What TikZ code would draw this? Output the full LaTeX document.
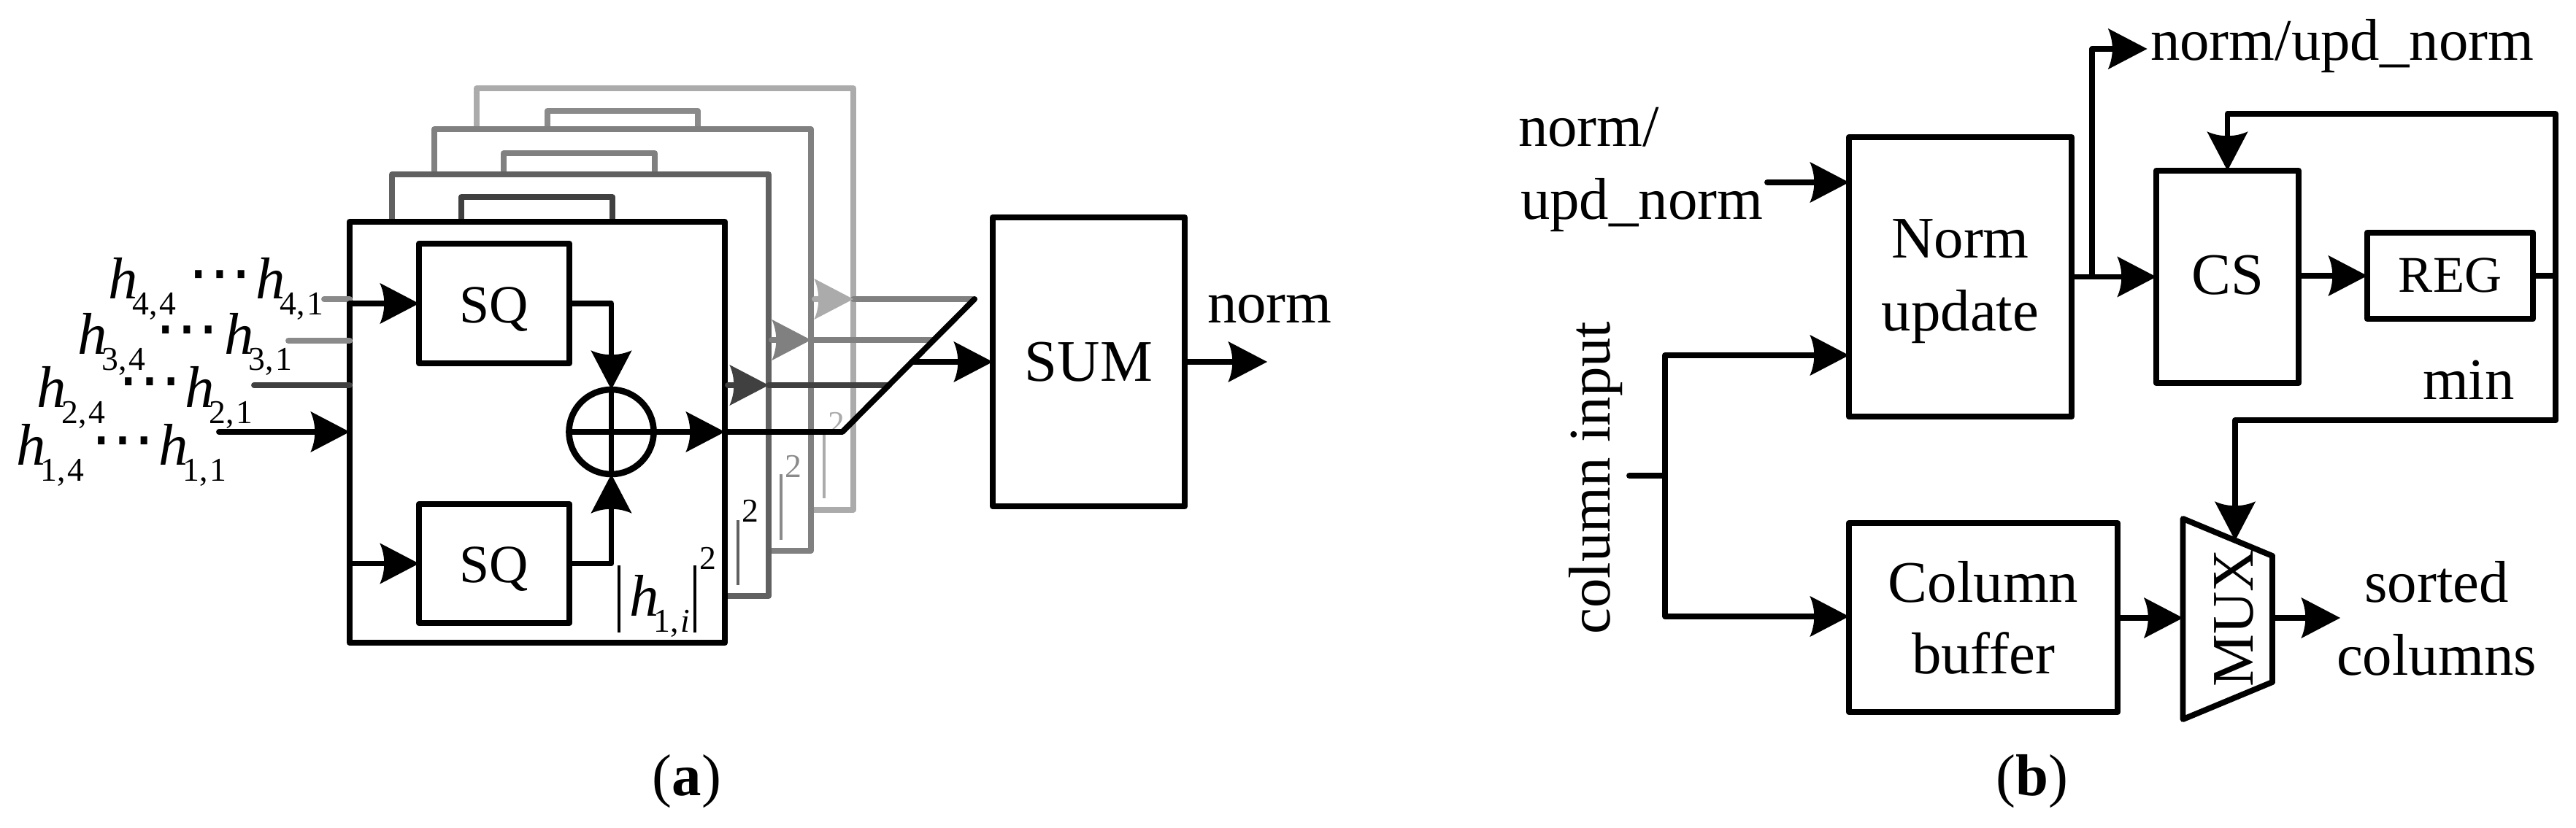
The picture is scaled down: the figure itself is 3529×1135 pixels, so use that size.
\documentclass[tikz,border=0pt]{standalone}
\usepackage{fontspec}
\setmainfont{Liberation Serif}
\newfontfamily\dvfont{DejaVu Sans}
\newlength\pxu
\setlength\pxu{0.02cm}
\newcommand\fM{\fontsize{46pt}{50pt}\selectfont}
\newcommand\fR{\fontsize{40.2pt}{50pt}\selectfont}
\newcommand\fS{\fontsize{26pt}{30pt}\selectfont}
\newcommand\lbl[2]{\makebox[0pt]{\raisebox{#1\pxu}[0pt][0pt]{#2}}}
\newcommand\hlab[2]{\textit{h}\kern-7\pxu\raisebox{-22\pxu}{\fS #1,\kern3\pxu #2}}
\definecolor{gA}{gray}{0.25}
\definecolor{gB}{gray}{0.38}
\definecolor{gC}{gray}{0.50}
\definecolor{gD}{gray}{0.54}
\definecolor{gE}{gray}{0.67}
\pgfdeclarearrow{
  name=Vis,
  setup code={\pgfarrowssettipend{0pt}\pgfarrowssetlineend{-22pt}\pgfarrowssetbackend{-30.6pt}\pgfarrowssetvisualbackend{-26pt}},
  drawing code={
    \pgfpathmoveto{\pgfpoint{0pt}{0pt}}
    \pgfpathlineto{\pgfpoint{-30.6pt}{16pt}}
    \pgfpathcurveto{\pgfpoint{-26pt}{6pt}}{\pgfpoint{-26pt}{-6pt}}{\pgfpoint{-30.6pt}{-16pt}}
    \pgfpathclose
    \pgfusepathqfill
  }
}
\tikzset{
  bx/.style={draw,line width=4.9pt,line join=round,inner sep=0pt,outer sep=0pt,fill=white,font=\fM},
  gbx/.style={bx,line width=4.3pt},
  conn/.style={line width=4.5pt,line cap=round,line join=round},
  arr/.style={conn,-{Vis}},
  txt/.style={inner sep=0pt,outer sep=0pt,font=\fM},
  sup/.style={inner sep=0pt,outer sep=0pt,font=\fS,anchor=base west},
  bar/.style={line width=2pt},
  dotsn/.style={inner sep=0pt,outer sep=0pt,font=\dvfont\fontsize{50pt}{52pt}\selectfont}
}
\newcommand\bxn[7][]{\node[bx,#1,minimum width={(#5-#3)*\pxu},minimum height={(#6-#4)*\pxu}] (#2) at ({(#3+#5)/2},{(#4+#6)/2}) {#7};}
\begin{document}
\begin{tikzpicture}[x=0.02cm,y=-0.02cm]
\useasboundingbox (0,0) rectangle (3529,1135);
\fill[white] (0,0) rectangle (3529,1135);
% ---------- (a) stacked boxes, back to front
\bxn[gbx,draw=gE]{b4}{653}{121}{1169}{699}{}
\bxn[gbx,draw=gD]{t3}{750}{152}{956}{200}{}
\bxn[gbx,draw=gC]{b3}{595}{177}{1111}{755}{}
\bxn[gbx,draw=gC]{t2}{690}{210}{897}{260}{}
\bxn[gbx,draw=gB]{b2}{537}{239}{1053}{817}{}
\bxn[gbx,draw=gA]{t1}{632}{270}{839}{320}{}
% input stubs behind the main box
\coordinate (in4) at (444,410);
\coordinate (in3) at (395,467);
\coordinate (in2) at (348,528);
\coordinate (in1) at (300,592);
\bxn{mb}{479}{304}{993}{881}{}
\draw[conn,draw=gD] (in4) -- (mb.west |- in4);
\draw[conn,draw=gD] (in3) -- (mb.west |- in3);
\draw[conn,draw=gA] (in2) -- (mb.west |- in2);
\draw[arr] (in1) -- (mb.west |- in1);
\bxn{sq1}{574}{334}{780}{498}{\fontsize{42pt}{50pt}\selectfont\lbl{-26}{SQ}}
\bxn{sq2}{574}{691}{780}{854}{\fontsize{42pt}{50pt}\selectfont\lbl{-26}{SQ}}
\node[draw,circle,line width=4.9pt,inner sep=0pt,outer sep=0pt,minimum size=116\pxu] (xor) at (837.5,592) {};
\draw[conn] (xor.west) -- (xor.east);
\draw[conn] (xor.north) -- (xor.south);
\draw[arr] (mb.west |- sq1) -- (sq1.west);
\draw[arr] (mb.west |- sq2) -- (sq2.west);
\draw[arr] (sq1.east) -| (xor.north);
\draw[arr] (sq2.east) -| (xor.south);
\draw[arr] (xor.east) -- (mb.east |- xor);
% h labels
\node[txt,anchor=base west] (h44) at (148,409) {\hlab{4}{4}};
\node[txt,anchor=base west] (h41) at (350,409) {\hlab{4}{1}};
\node[txt,anchor=base west] (h34) at (106,485) {\hlab{3}{4}};
\node[txt,anchor=base west] (h31) at (307,485) {\hlab{3}{1}};
\node[txt,anchor=base west] (h24) at (51,558) {\hlab{2}{4}};
\node[txt,anchor=base west] (h21) at (253,558) {\hlab{2}{1}};
\node[txt,anchor=base west] (h14) at (22,637) {\hlab{1}{4}};
\node[txt,anchor=base west] (h11) at (217,637) {\hlab{1}{1}};
\node[dotsn,anchor=center] (d4) at (301,387) {⋯};
\node[dotsn,anchor=center] (d3) at (256,463) {⋯};
\node[dotsn,anchor=center] (d2) at (205,534) {⋯};
\node[dotsn,anchor=center] (d1) at (168,615) {⋯};
% |h|^2 labels
\draw[bar] (848,775) -- (848,867);
\draw[bar] (952,775) -- (952,867);
\node[txt,anchor=base west] (habs) at (862,844) {\hlab{1}{\textit{i}}};
\node[sup] (s1) at (958,780) {2};
\draw[bar,draw=gB] (1011,713) -- (1011,802);
\node[sup] (s2) at (1016,715) {2};
\draw[bar,draw=gD] (1070,650) -- (1070,740);
\node[sup,text=gD] (s3) at (1075,654) {2};
\draw[bar,draw=gE] (1129,594) -- (1129,683);
\node[sup,text=gE] (s4) at (1134,595) {2};
% outputs to the bus
\coordinate (da) at (1154,592);
\coordinate (db) at (1335,410);
\coordinate (dc) at (1279,466);
\coordinate (dd) at (1218,528);
\coordinate (de) at (1249,496);
\draw[conn,draw=gC] (b4.east |- db) -- (db);
\draw[conn,draw=gC] (b3.east |- dc) -- (dc);
\draw[conn,draw=gA] (b2.east |- dd) -- (dd);
\draw[arr,color=gE] (1116,410) -- (b4.east |- db);
\draw[arr,color=gC] (1057,466) -- (b3.east |- dc);
\draw[arr,color=gA] (997,528) -- (b2.east |- dd);
\draw[conn] (mb.east |- da) -- (da) -- (db);
\bxn{sum}{1360}{298}{1623}{694}{\lbl{-26}{SUM}}
\coordinate (nout) at (1736,496);
\draw[arr] (de) -- (sum.west);
\draw[arr] (sum.east) -- (nout);
\node[txt,anchor=base west] (norm) at (1654,442) {norm};
\node[txt,anchor=base] (capa) at (941,1090) {(\textbf{a})};
% ---------- (b)
\bxn{nu}{2533}{188}{2838}{571}{\lbl{26}{Norm}\lbl{-74}{update}}
\bxn{cs}{2954}{234}{3149}{525}{\lbl{-24}{CS}}
\bxn{reg}{3243}{319}{3470}{437}{\fR\lbl{-22}{REG}}
\bxn{cb}{2533}{717}{2901}{976}{\lbl{21}{Column}\lbl{-77}{buffer}}
\draw[line width=4.5pt,line join=round] (2990.5,711) -- (3113,762) -- (3113,935) -- (2990.5,986) -- cycle;
\coordinate (muxL) at (2990.5,847);
\coordinate (muxR) at (3113,847);
\coordinate (muxT) at (3062,741);
\node[txt,rotate=90,anchor=base] (mux) at (3086,847) {MUX};
\coordinate (i1) at (2421,250);
\draw[arr] (i1) -- (nu.west |- i1);
\node[txt,anchor=base west] (tn) at (2080,201) {norm/};
\node[txt,anchor=base west] (tu) at (2083,300) {upd\_norm};
\draw[arr] (nu.east |- cs) -- (cs.west);
\coordinate (bU) at (2866,378);
\coordinate (bO) at (2941.5,67);
\draw[arr] (bU) |- (bO);
\node[txt,anchor=base west] (tnu) at (2946,83) {norm/upd\_norm};
\coordinate (rU) at (3501,378);
\draw[arr] (cs.east |- rU) -- (reg.west |- rU);
\draw[conn] (reg.east |- rU) -- (rU);
\coordinate (rT) at (3501,156);
\coordinate (rB) at (3501,576);
\draw[arr] (rB) -- (rT) -| (cs.north);
\draw[arr] (rB) -| (muxT);
\node[txt,anchor=base west] (tmin) at (3319,547) {min};
\node[txt,rotate=90,anchor=base] (tci) at (2205,655) {column input};
\coordinate (cin) at (2232,652);
\coordinate (cj) at (2281,652);
\coordinate (cu) at (2281,487);
\coordinate (cd) at (2281,845);
\draw[conn] (cin) -- (cj);
\draw[arr] (cj) -- (cu) -- (nu.west |- cu);
\draw[arr] (cj) -- (cd) -- (cb.west |- cd);
\draw[arr] (cb.east |- muxL) -- (muxL);
\coordinate (mo) at (3206,847);
\draw[arr] (muxR) -- (mo);
\node[txt,anchor=base] (ts) at (3338,825) {sorted};
\node[txt,anchor=base] (tc) at (3338,925) {columns};
\node[txt,anchor=base] (capb) at (2784,1090) {(\textbf{b})};
\end{tikzpicture}
\end{document}
